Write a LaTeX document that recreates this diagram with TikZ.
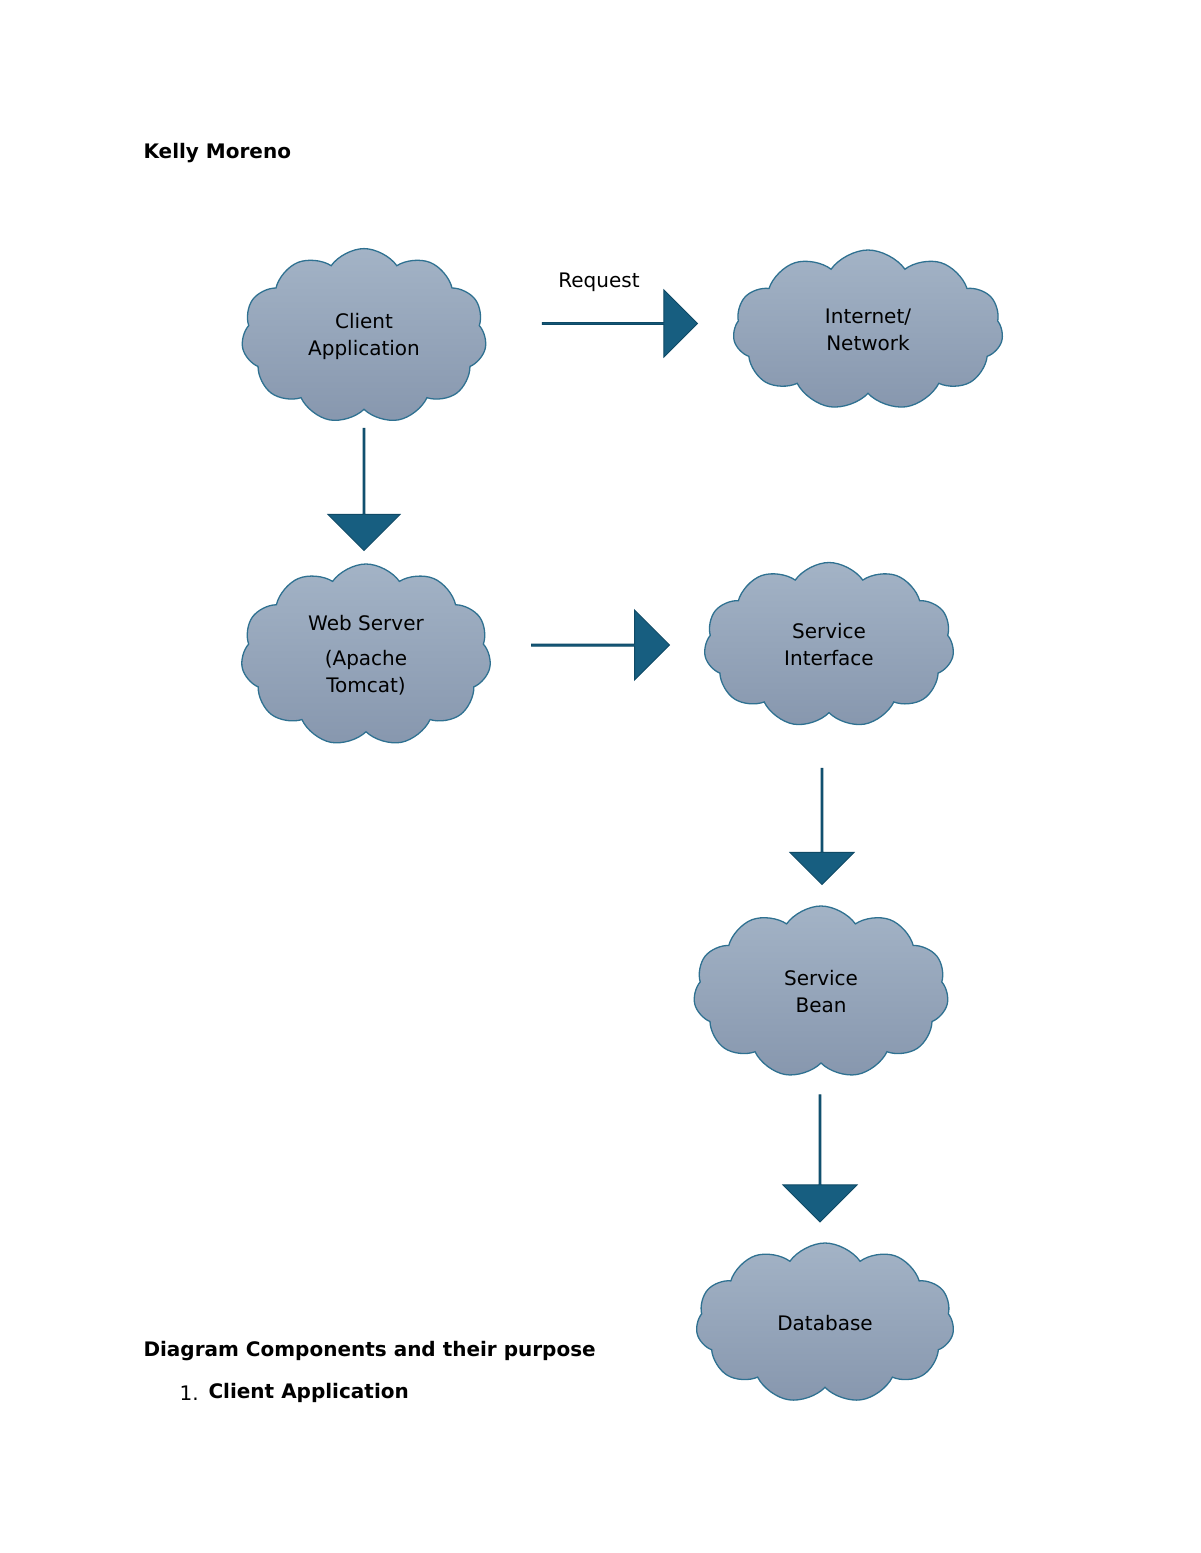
\documentclass[tikz,border=0pt]{standalone}
\usepackage{fontspec}
\setmainfont{DejaVu Sans}
\usetikzlibrary{shapes.symbols,shapes.arrows}
\definecolor{cloudtop}{HTML}{A3B3C6}
\definecolor{cloudbot}{HTML}{8797AE}
\definecolor{cloudline}{HTML}{2F7191}
\definecolor{arr}{HTML}{175E80}
\definecolor{arrline}{HTML}{0F4A66}
\begin{document}
\begin{tikzpicture}[x=1pt,y=-1pt,
  cl/.style={cloud,cloud puffs=11,cloud puff arc=110,draw=cloudline,line width=1.3pt,
    top color=cloudtop,bottom color=cloudbot,align=center,inner sep=0pt,
    font=\fontsize{20}{27}\selectfont},
  ar/.style={single arrow,fill=arr,draw=arrline,line width=1pt,inner sep=0pt},
  lbl/.style={font=\fontsize{20}{24}\selectfont,anchor=west}]
\useasboundingbox (0,0) rectangle (1200,1553);
\node[lbl,font=\bfseries\fontsize{20}{24}\selectfont] (t) at (140,153) {Kelly Moreno};
\node[cl,minimum width=245pt,minimum height=165pt] (c1) at (364,336) {Client\\Application};
\node[cl,minimum width=270pt,minimum height=160pt] (c2) at (868,330) {Internet/\\Network};
\node[cl,minimum width=250pt,minimum height=182pt] (c3) at (366,655) {Web Server\\[8pt](Apache\\Tomcat)};
\node[cl,minimum width=250pt,minimum height=165pt] (c4) at (829,645) {Service\\Interface};
\node[cl,minimum width=255pt,minimum height=172pt] (c5) at (821,992) {Service\\Bean};
\node[cl,minimum width=258pt,minimum height=160pt] (c6) at (825,1323) {Database};
\node[ar,minimum width=67pt,minimum height=155pt,single arrow head extend=17pt,
  single arrow head indent=0pt,shape border rotate=0] (a1) at (619.5,323.5) {};
\node[font=\fontsize{20}{24}\selectfont] (r) at (599,282) {Request};
\node[ar,minimum width=72pt,minimum height=122pt,single arrow head extend=18pt,shape border rotate=270] (a2) at (364,489) {};
\node[ar,minimum width=70pt,minimum height=138pt,single arrow head extend=17pt,shape border rotate=0] (a3) at (600,645) {};
\node[ar,minimum width=64pt,minimum height=116pt,single arrow head extend=16pt,shape border rotate=270] (a4) at (822,826) {};
\node[ar,minimum width=74pt,minimum height=127pt,single arrow head extend=19pt,shape border rotate=270] (a5) at (820,1158) {};
\node[lbl,font=\bfseries\fontsize{20}{24}\selectfont] (h) at (140,1351) {Diagram Components and their purpose};
\node[lbl] (n1) at (176,1393) {1.};
\node[lbl,font=\bfseries\fontsize{20}{24}\selectfont] (i1) at (205,1393) {Client Application};
\end{tikzpicture}
\end{document}
